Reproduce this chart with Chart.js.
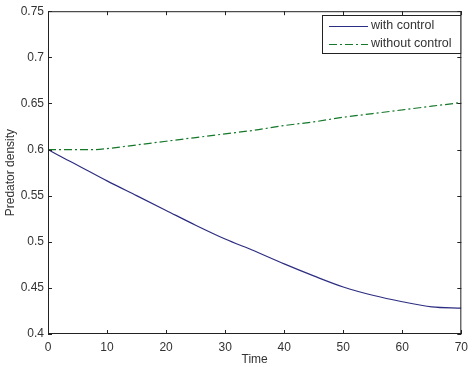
<!DOCTYPE html>
<html>
<head>
<meta charset="utf-8">
<script src="https://cdn.jsdelivr.net/npm/chart.js@4.4.1/dist/chart.umd.min.js"></script>
<style>
  html, body { margin: 0; padding: 0; background: #fff; }
  #wrap { width: 474px; height: 367px; }
</style>
</head>
<body>
<div id="wrap"><canvas id="predator"></canvas></div>
<script>
// values
const timeWith = [0, 2, 5, 10, 15, 20, 25, 30, 35, 40, 45, 50, 55, 60, 65, 70];
const withControl = [0.600, 0.593, 0.583, 0.566, 0.550, 0.534, 0.518, 0.503, 0.490, 0.476, 0.463, 0.451, 0.442, 0.435, 0.4295, 0.428];
const timeWithout = [0, 5, 8, 10, 15, 20, 25, 30, 35, 40, 45, 50, 55, 60, 65, 70];
const withoutControl = [0.600, 0.600, 0.600, 0.601, 0.605, 0.609, 0.613, 0.617, 0.621, 0.626, 0.630, 0.635, 0.639, 0.643, 0.647, 0.651];
const xTicks = [0, 10, 20, 30, 40, 50, 60, 70];
const yTicks = [0.4, 0.45, 0.5, 0.55, 0.6, 0.65, 0.7, 0.75];

const fontFam = '"Liberation Sans", Arial, sans-serif';
const textCol = '#333';

function pairs(xs, ys) {
  return xs.map((x, i) => ({x: x, y: ys[i]}));
}

// box around the plot, inward ticks, and the legend inside the top right corner
const matlabBox = {
  id: 'matlabBox',
  afterDatasetsDraw(chart) {
    const ctx = chart.ctx;
    const a = chart.chartArea;
    const xs = chart.scales.x, ys = chart.scales.y;
    ctx.save();
    ctx.strokeStyle = '#222';
    ctx.lineWidth = 1;
    ctx.strokeRect(a.left + 0.5, a.top + 0.5, a.right - a.left - 1, a.bottom - a.top - 1);
    ctx.beginPath();
    xTicks.forEach(v => {
      const px = Math.round(xs.getPixelForValue(v)) + 0.5;
      ctx.moveTo(px, a.bottom); ctx.lineTo(px, a.bottom - 4);
      ctx.moveTo(px, a.top); ctx.lineTo(px, a.top + 4);
    });
    yTicks.forEach(v => {
      const py = Math.round(ys.getPixelForValue(v)) + 0.5;
      ctx.moveTo(a.left, py); ctx.lineTo(a.left + 4, py);
      ctx.moveTo(a.right, py); ctx.lineTo(a.right - 4, py);
    });
    ctx.stroke();

    // legend
    const lx = 322, ly = 15, lw = a.right - 322, lh = 39;
    ctx.fillStyle = '#fff';
    ctx.fillRect(lx, ly, lw, lh);
    ctx.strokeStyle = '#222';
    ctx.strokeRect(lx + 0.5, ly + 0.5, lw - 1, lh - 1);
    ctx.font = '12.5px ' + fontFam;
    ctx.textBaseline = 'middle';
    chart.data.datasets.forEach((ds, i) => {
      const ry = ly + 11 + i * 18;
      ctx.strokeStyle = ds.borderColor;
      ctx.lineWidth = 1;
      ctx.setLineDash(ds.borderDash || []);
      ctx.beginPath();
      ctx.moveTo(lx + 7, ry + 0.5); ctx.lineTo(lx + 46, ry + 0.5);
      ctx.stroke();
      ctx.setLineDash([]);
      ctx.fillStyle = textCol;
      ctx.fillText(ds.label, lx + 49, ry);
    });
    ctx.restore();
  }
};

const config = {
  type: 'line',
  data: {
    datasets: [{
      label: 'with control',
      data: pairs(timeWith, withControl),
      borderColor: 'rgb(45, 45, 130)',
      borderWidth: 1.2,
      pointRadius: 0,
      cubicInterpolationMode: 'monotone',
      fill: false
    }, {
      label: 'without control',
      data: pairs(timeWithout, withoutControl),
      borderColor: 'rgb(20, 120, 40)',
      borderWidth: 1.2,
      borderDash: [8, 3, 2, 3],
      pointRadius: 0,
      cubicInterpolationMode: 'monotone',
      fill: false
    }]
  },
  options: {
    responsive: true,
    maintainAspectRatio: false,
    animation: false,
    layout: { padding: { top: 9, right: 12, left: 0, bottom: 0 } },
    plugins: { legend: { display: false }, tooltip: { enabled: false } },
    scales: {
      x: {
        type: 'linear',
        min: 0, max: 70,
        afterFit: s => { s.height = 33; },
        afterBuildTicks: s => { s.ticks = xTicks.map(v => ({value: v})); },
        grid: { display: false, drawTicks: false },
        border: { display: false },
        ticks: { padding: 6, color: textCol, font: { family: fontFam, size: 12 }, maxRotation: 0 },
        title: { display: true, text: 'Time', color: textCol, font: { family: fontFam, size: 12 }, padding: { top: 0, bottom: 0 } }
      },
      y: {
        min: 0.4, max: 0.75,
        afterFit: s => { s.width = 48; },
        afterBuildTicks: s => { s.ticks = yTicks.map(v => ({value: v})); },
        grid: { display: false, drawTicks: false },
        border: { display: false },
        ticks: { padding: 4, color: textCol, font: { family: fontFam, size: 12 },
          callback: v => String(+v.toFixed(2)) },
        title: { display: true, text: 'Predator density', color: textCol, font: { family: fontFam, size: 12 }, padding: { top: 3, bottom: 2 } }
      }
    }
  },
  plugins: [matlabBox]
};

var predatorChart = new Chart(document.getElementById('predator'), config);
</script>
</body>
</html>
